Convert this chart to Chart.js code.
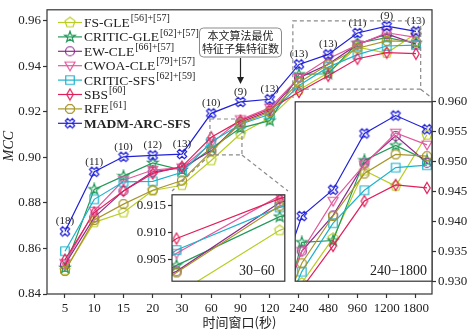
<!DOCTYPE html>
<html>
<head>
<meta charset="utf-8">
<script src="https://cdn.jsdelivr.net/npm/chart.js@4.4.1/dist/chart.umd.min.js"></script>
<style>
  html, body { margin: 0; padding: 0; background: #fff; }
  #wrap { position: relative; width: 474px; height: 331px; }
  #wrap canvas { position: absolute; }
</style>
</head>
<body>
<div id="wrap">
  <canvas id="mainChart" width="474" height="331" style="left:0;top:0;width:474px;height:331px"></canvas>
  <canvas id="inset1"></canvas>
  <canvas id="inset2"></canvas>
</div>
<script>
// time windows (seconds) on the x axis
const windows = ['5', '10', '15', '20', '30', '60', '90', '120', '240', '480', '960', '1200', '1800'];

// MCC per method
const fsGle     = [0.8505, 0.8715, 0.8758, 0.8855, 0.8878, 0.8987, 0.9104, 0.9175, 0.9297, 0.9372, 0.9485, 0.9459, 0.9545];
const criticGle = [0.8515, 0.8860, 0.8918, 0.8976, 0.8945, 0.9040, 0.9129, 0.9162, 0.9365, 0.9368, 0.9502, 0.9527, 0.9502];
const ewCle     = [0.8530, 0.8737, 0.8853, 0.8937, 0.8955, 0.9029, 0.9155, 0.9205, 0.9350, 0.9410, 0.9497, 0.9543, 0.9498];
const cwoaCle   = [0.8535, 0.8765, 0.8900, 0.8945, 0.8955, 0.9062, 0.9167, 0.9218, 0.9350, 0.9434, 0.9495, 0.9548, 0.9528];
const criticSfs = [0.8588, 0.8816, 0.8893, 0.8895, 0.8935, 0.9068, 0.9146, 0.9190, 0.9316, 0.9397, 0.9452, 0.9490, 0.9494];
const sbs       = [0.8551, 0.8758, 0.8853, 0.8930, 0.8960, 0.9089, 0.9162, 0.9212, 0.9288, 0.9359, 0.9434, 0.9461, 0.9456];
const rfe       = [0.8501, 0.8725, 0.8795, 0.8856, 0.8899, 0.9027, 0.9149, 0.9200, 0.9330, 0.9409, 0.9480, 0.9512, 0.9509];
const madm      = [0.8675, 0.8937, 0.9003, 0.9009, 0.9015, 0.9194, 0.9244, 0.9256, 0.9409, 0.9453, 0.9547, 0.9577, 0.9554];

// size of the best feature subset for MADM-ARC-SFS
const featCounts = [18, 11, 10, 12, 13, 10, 9, 13, 13, 13, 11, 9, 13];

const yTicks = [0.84, 0.86, 0.88, 0.90, 0.92, 0.94, 0.96];
const inset1Ticks = [0.905, 0.910, 0.915];
const inset2Ticks = [0.930, 0.935, 0.940, 0.945, 0.950, 0.955, 0.960];

const series = [
  { name: 'FS-GLE',       ref: '[56]+[57]', values: fsGle,     color: '#b9cd22', shape: 'pentagon' },
  { name: 'CRITIC-GLE',   ref: '[62]+[57]', values: criticGle, color: '#239a5a', shape: 'star' },
  { name: 'EW-CLE',       ref: '[66]+[57]', values: ewCle,     color: '#8e2a8e', shape: 'circle' },
  { name: 'CWOA-CLE',     ref: '[79]+[57]', values: cwoaCle,   color: '#e2599c', shape: 'triDown' },
  { name: 'CRITIC-SFS',   ref: '[62]+[59]', values: criticSfs, color: '#1eb2cc', shape: 'square' },
  { name: 'SBS',          ref: '[60]',      values: sbs,       color: '#e0205a', shape: 'diamond' },
  { name: 'RFE',          ref: '[61]',      values: rfe,       color: '#a8962a', shape: 'octagon' },
  { name: 'MADM-ARC-SFS', ref: '',          values: madm,      color: '#2020d8', shape: 'xFilled', bold: true }
];

const SERIF = '"Liberation Serif", "Times New Roman", serif';
const CJK = '"Noto Sans CJK SC", sans-serif';
const AXIS = '#333';

// frames of the two zoomed panels, in page pixels
const inset1Frame = { l: 172, t: 191, r: 288, b: 288 };
const inset2Frame = { l: 293, t: 98, r: 432, b: 288 };
const inset1Range = { xMin: 4.956, xMax: 6.05, yMin: 0.9011, yMax: 0.9169 };
const inset2Range = { xMin: 7.79, xMax: 12.16, yMin: 0.930, yMax: 0.960 };

// hollow marker glyphs drawn to small canvases
function makeMarker(shape, color) {
  const s = 14, r = 5;
  const c = document.createElement('canvas');
  c.width = s; c.height = s;
  const g = c.getContext('2d');
  g.translate(s / 2, s / 2);
  g.strokeStyle = color;
  g.lineWidth = 1.2;
  g.beginPath();
  const poly = pts => { pts.forEach((p, i) => i ? g.lineTo(p[0], p[1]) : g.moveTo(p[0], p[1])); g.closePath(); };
  const ring = (n, rad, rot) => {
    const pts = [];
    for (let i = 0; i < n; i++) {
      const a = rot + i * 2 * Math.PI / n;
      pts.push([rad * Math.cos(a), rad * Math.sin(a)]);
    }
    return pts;
  };
  if (shape === 'pentagon') poly(ring(5, r * 1.05, -Math.PI / 2));
  else if (shape === 'star') {
    const pts = [];
    for (let i = 0; i < 10; i++) {
      const a = -Math.PI / 2 + i * Math.PI / 5;
      const rad = i % 2 ? r * 0.45 : r * 1.15;
      pts.push([rad * Math.cos(a), rad * Math.sin(a)]);
    }
    poly(pts);
  }
  else if (shape === 'circle') g.arc(0, 0, r * 0.9, 0, Math.PI * 2);
  else if (shape === 'triDown') poly([[0, r], [-r, -r * 0.75], [r, -r * 0.75]]);
  else if (shape === 'square') poly([[-r * 0.85, -r * 0.85], [r * 0.85, -r * 0.85], [r * 0.85, r * 0.85], [-r * 0.85, r * 0.85]]);
  else if (shape === 'diamond') poly([[0, -r * 1.1], [r * 0.65, 0], [0, r * 1.1], [-r * 0.65, 0]]);
  else if (shape === 'octagon') poly(ring(8, r * 0.95, Math.PI / 8));
  else if (shape === 'xFilled') {
    const w = 0.32 * r, e = r;
    const plus = [[-w, -e], [w, -e], [w, -w], [e, -w], [e, w], [w, w], [w, e], [-w, e], [-w, w], [-e, w], [-e, -w], [-w, -w]];
    const k = Math.SQRT1_2;
    poly(plus.map(p => [(p[0] - p[1]) * k, (p[0] + p[1]) * k]));
  }
  g.stroke();
  return c;
}
const markers = series.map(s => makeMarker(s.shape, s.color));

function buildDatasets() {
  return series.map((s, i) => ({
    label: s.name,
    data: s.values.map((v, j) => ({ x: j, y: v })),
    borderColor: s.color,
    backgroundColor: s.color,
    borderWidth: 1.2,
    pointStyle: markers[i],
    pointRadius: 5,
    order: series.length - i
  }));
}

const frame = {
  id: 'frame',
  beforeDraw(chart, args, opts) {
    if (!opts.fill) return;
    const a = chart.chartArea, ctx = chart.ctx;
    ctx.save();
    ctx.fillStyle = '#fff';
    ctx.fillRect(a.left, a.top, a.right - a.left, a.bottom - a.top);
    ctx.restore();
  },
  afterDraw(chart, args, opts) {
    const a = chart.chartArea, ctx = chart.ctx;
    ctx.save();
    ctx.strokeStyle = AXIS;
    ctx.lineWidth = 1.2;
    ctx.strokeRect(a.left, a.top, a.right - a.left, a.bottom - a.top);
    if (opts.tag) {
      ctx.fillStyle = '#222';
      ctx.font = '14px ' + SERIF;
      ctx.textAlign = 'right';
      ctx.textBaseline = 'middle';
      ctx.fillText(opts.tag, a.right - opts.tagInset, a.bottom - 10);
    }
    ctx.restore();
  }
};

function tickStyle(fmt) {
  return {
    font: { family: SERIF, size: 13 },
    color: '#222',
    padding: 2,
    callback: fmt
  };
}
const outTicks = { drawOnChartArea: false, tickLength: 4, tickColor: AXIS, tickWidth: 1.2 };

// labels, legend, inset marks and the note on the main chart
const decorations = {
  id: 'decorations',
  afterDatasetsDraw(chart) {
    const ctx = chart.ctx, xs = chart.scales.x, ys = chart.scales.y;
    ctx.save();

    // subset sizes above the MADM-ARC-SFS points
    const meta = chart.getDatasetMeta(series.length - 1);
    ctx.fillStyle = '#222';
    ctx.font = '11px ' + SERIF;
    ctx.textAlign = 'center';
    ctx.textBaseline = 'middle';
    meta.data.forEach((p, j) => ctx.fillText('(' + featCounts[j] + ')', p.x, p.y - 10));

    // dashed boxes with connectors to the zoomed panels
    ctx.strokeStyle = '#8a8a8a';
    ctx.lineWidth = 1.2;
    ctx.setLineDash([4, 3]);
    [[inset1Range, inset1Frame], [inset2Range, inset2Frame]].forEach(([rg, fr]) => {
      const l = xs.getPixelForValue(rg.xMin), r = xs.getPixelForValue(rg.xMax);
      const t = ys.getPixelForValue(rg.yMax), b = ys.getPixelForValue(rg.yMin);
      ctx.strokeRect(l, t, r - l, b - t);
      ctx.beginPath();
      ctx.moveTo(l, b); ctx.lineTo(fr.l, fr.t);
      ctx.moveTo(r, b); ctx.lineTo(fr.r, fr.t);
      ctx.stroke();
    });
    ctx.setLineDash([]);

    // note box and arrow pointing at the 90 s point
    const ax = xs.getPixelForValue(6);
    const bx = ax - 41, by = 28, bw = 82, bh = 29;
    ctx.beginPath();
    ctx.roundRect(bx, by, bw, bh, 4);
    ctx.fillStyle = '#fff';
    ctx.fill();
    ctx.strokeStyle = '#8a8a8a';
    ctx.lineWidth = 1;
    ctx.stroke();
    ctx.fillStyle = '#222';
    ctx.font = '11px ' + CJK;
    ctx.fillText('本文算法最优', ax, by + 8);
    ctx.fillText('特征子集特征数', ax, by + 21);
    const tipY = meta.data[6].y - 18;
    ctx.strokeStyle = '#222';
    ctx.lineWidth = 1.2;
    ctx.beginPath();
    ctx.moveTo(ax, by + bh + 1);
    ctx.lineTo(ax, tipY - 5);
    ctx.stroke();
    ctx.beginPath();
    ctx.moveTo(ax, tipY);
    ctx.lineTo(ax - 3.5, tipY - 7);
    ctx.lineTo(ax + 3.5, tipY - 7);
    ctx.closePath();
    ctx.fill();

    // legend
    const lx = 58, ly0 = 22.5, dy = 14.4;
    series.forEach((s, i) => {
      const y = ly0 + i * dy;
      ctx.strokeStyle = s.color;
      ctx.lineWidth = 1.2;
      ctx.beginPath();
      ctx.moveTo(lx, y); ctx.lineTo(lx + 24, y);
      ctx.stroke();
      ctx.drawImage(markers[i], lx + 12 - 7, y - 7);
      ctx.fillStyle = '#222';
      ctx.textAlign = 'left';
      ctx.textBaseline = 'middle';
      ctx.font = (s.bold ? 'bold ' : '') + '13.5px ' + SERIF;
      ctx.fillText(s.name, lx + 26, y + 1);
      if (s.ref) {
        const w = ctx.measureText(s.name).width;
        ctx.font = '10px ' + SERIF;
        ctx.fillText(s.ref, lx + 26 + w + 1, y - 4);
      }
    });

    ctx.restore();
  },
  afterDraw(chart) {
    const ctx = chart.ctx;
    ctx.save();
    ctx.fillStyle = '#222';
    ctx.textAlign = 'center';
    ctx.textBaseline = 'middle';
    ctx.font = '13px ' + CJK;
    ctx.fillText('时间窗口(秒)', (chart.chartArea.left + chart.chartArea.right) / 2, 322);
    ctx.translate(9, 146);
    ctx.rotate(-Math.PI / 2);
    ctx.font = 'italic 14px ' + SERIF;
    ctx.fillText('MCC', 0, 0);
    ctx.restore();
  }
};

new Chart(document.getElementById('mainChart'), {
  type: 'line',
  data: { datasets: buildDatasets() },
  options: {
    responsive: false,
    animation: false,
    devicePixelRatio: 1,
    layout: { padding: { left: 0, right: 42, top: 7, bottom: 0 } },
    plugins: { legend: { display: false }, tooltip: { enabled: false }, frame: {} },
    scales: {
      x: {
        type: 'linear', min: -0.615, max: 12.547,
        afterBuildTicks: s => { s.ticks = windows.map((w, i) => ({ value: i })); },
        afterFit: s => { s.height = 37; },
        ticks: Object.assign(tickStyle(v => windows[v]), { autoSkip: false, maxRotation: 0, padding: 3 }),
        grid: outTicks,
        border: { display: false }
      },
      y: {
        min: 0.84, max: 0.9649,
        afterBuildTicks: s => { s.ticks = yTicks.map(v => ({ value: v })); },
        afterFit: s => { s.width = 47; },
        ticks: tickStyle(v => v.toFixed(2)),
        grid: outTicks,
        border: { display: false }
      }
    }
  },
  plugins: [frame, decorations]
});

// zoomed panels share the same series, only the axis limits change
function makeInset(id, fr, gutterL, gutterR, rg, ticks, side, tag, tagInset) {
  const el = document.getElementById(id);
  const padT = 6, padB = 3;
  const left = fr.l - gutterL, top = fr.t - padT;
  const w = fr.r - fr.l + gutterL + gutterR, h = fr.b - fr.t + padT + padB;
  el.width = w; el.height = h;
  el.style.left = left + 'px'; el.style.top = top + 'px';
  el.style.width = w + 'px'; el.style.height = h + 'px';
  return new Chart(el, {
    type: 'line',
    data: { datasets: buildDatasets() },
    options: {
      responsive: false,
      animation: false,
      devicePixelRatio: 1,
      layout: { padding: { left: side === 'right' ? gutterL : 0, right: side === 'left' ? gutterR : 0, top: padT, bottom: padB } },
      plugins: { legend: { display: false }, tooltip: { enabled: false }, frame: { fill: true, tag: tag, tagInset: tagInset } },
      scales: {
        x: { type: 'linear', display: false, min: rg.xMin, max: rg.xMax },
        y: {
          position: side, min: rg.yMin, max: rg.yMax,
          afterBuildTicks: s => { s.ticks = ticks.map(v => ({ value: v })); },
          afterFit: s => { s.width = side === 'left' ? gutterL : gutterR; },
          ticks: tickStyle(v => v.toFixed(3)),
          grid: outTicks,
          border: { display: false }
        }
      }
    },
    plugins: [frame]
  });
}

makeInset('inset1', inset1Frame, 44, 3, inset1Range, inset1Ticks, 'left', '30\u221260', 10);
makeInset('inset2', inset2Frame, 4, 42, inset2Range, inset2Ticks, 'right', '240\u22121800', 5);
</script>
</body>
</html>
